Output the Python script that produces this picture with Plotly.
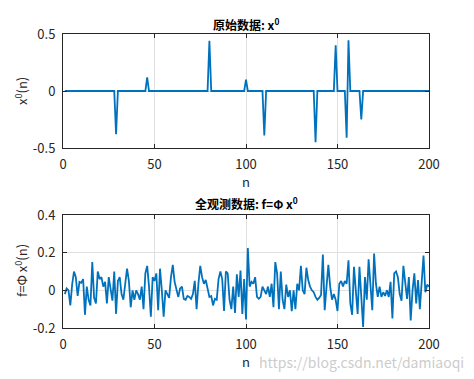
import plotly.graph_objects as go

# ---------------- data ----------------
n = list(range(1, 201))

spike_pos = [29, 46, 80, 100, 110, 138, 149, 155, 156, 163]
spike_val = [-0.38, 0.12, 0.44, 0.10, -0.39, -0.45, 0.40, -0.41, 0.445, -0.25]

x0 = [0.0] * 200
for p, v in zip(spike_pos, spike_val):
    x0[p - 1] = v

f_vals = [
    -0.02, 0.01, 0.0, -0.08, 0.03, 0.1, 0.07, -0.03, 0.045, 0.04,
    0.06, -0.13, 0.02, -0.05, -0.08, 0.15, -0.04, -0.07, 0.1, 0.06,
    0.07, 0.02, 0.045, -0.07, 0.07, 0.0, -0.055, 0.1, -0.125, 0.05,
    0.07, -0.02, -0.05, 0.035, 0.115, 0.05, -0.09, 0.0, -0.05, 0.0,
    -0.02, -0.05, 0.02, -0.1, 0.09, 0.13, 0.02, -0.14, 0.07, 0.05,
    0.09, -0.105, 0.115, 0.0, -0.14, 0.0, -0.02, -0.04, 0.07, 0.135,
    0.045, 0.0, -0.035, 0.01, 0.02, -0.045, -0.05, -0.03, -0.035, -0.045,
    -0.02, 0.05, -0.1, 0.035, 0.13, 0.07, 0.035, 0.055, 0.0, -0.035,
    -0.03, -0.08, -0.045, -0.05, 0.06, 0.1, 0.06, -0.11, 0.1, 0.09,
    -0.05, -0.1, 0.02, -0.12, 0.085, -0.035, 0.105, -0.125, 0.06, -0.155,
    0.225, 0.02, 0.045, 0.035, 0.07, -0.035, -0.045, -0.035, 0.02, 0.0,
    -0.02, 0.02, -0.035, 0.035, -0.09, 0.15, 0.09, -0.1, 0.1, -0.05,
    -0.1, 0.03, -0.035, 0.0, -0.11, 0.0, -0.1, 0.035, 0.0, 0.13,
    0.0, -0.02, 0.12, 0.055, 0.02, 0.0, -0.01, -0.035, -0.05, -0.04,
    -0.025, 0.19, -0.105, 0.02, 0.135, 0.02, -0.05, -0.02, -0.05, -0.11,
    0.035, 0.05, 0.02, 0.05, 0.035, 0.16, -0.07, -0.13, 0.125, 0.0,
    -0.125, 0.125, -0.05, -0.195, 0.07, -0.05, 0.165, 0.0, -0.105, 0.195,
    0.035, -0.035, 0.02, -0.035, -0.01, -0.03, 0.0, -0.035, 0.045, -0.15,
    0.09, 0.1, 0.07, -0.02, -0.055, 0.13, 0.02, -0.045, 0.07, -0.16,
    0.0, 0.09, -0.07, 0.055, -0.1, 0.02, 0.185, -0.01, 0.03, 0.02,
]

x_ticks = [0, 50, 100, 150, 200]
y1_ticks = [-0.5, 0, 0.5]
y1_labels = ["-0.5", "0", "0.5"]
y2_ticks = [-0.2, 0, 0.2, 0.4]
y2_labels = ["-0.2", "0", "0.2", "0.4"]

title1 = "<b>原始数据: x<sup>0</sup></b>"
title2 = "<b>全观测数据: f=Φ x<sup>0</sup></b>"
ylabel1 = "x<sup>0</sup>(n)"
ylabel2 = "f=Φ x<sup>0</sup>(n)"
xlabel = "n"
watermark = "https://blog.csdn.net/damiaoqi"

# ---------------- figure ----------------
OFF = 8  # page body margin
W, H = 474 - OFF, 379 - OFF
FONT = "Noto Sans CJK SC, Noto Sans, sans-serif"
LINE = "#0072BD"
AX = "#262626"
GRID = "#e0e0e0"


def px(x):
    return (x - OFF) / W


def py(y):
    return 1 - (y - OFF) / H


fig = go.Figure()
fig.add_trace(go.Scatter(x=n, y=x0, mode="lines", line=dict(color=LINE, width=1.8),
                         xaxis="x", yaxis="y", showlegend=False))
fig.add_trace(go.Scatter(x=n, y=f_vals, mode="lines", line=dict(color=LINE, width=1.8),
                         xaxis="x2", yaxis="y2", showlegend=False))

xdom = [px(63), px(429)]
y1dom = [py(148), py(34)]
y2dom = [py(328), py(215)]

common_x = dict(range=[0, 200], tickvals=x_ticks, ticks="inside", ticklen=4,
                tickcolor=AX, showline=True, linecolor=AX, linewidth=1,
                mirror="allticks", showgrid=True, gridcolor=GRID, gridwidth=1,
                zeroline=False, tickfont=dict(size=13, color=AX, family=FONT),
                domain=xdom, automargin=False, ticklabelstandoff=4)
common_y = dict(ticks="inside", ticklen=4, tickcolor=AX, showline=True,
                linecolor=AX, linewidth=1, mirror="allticks", showgrid=True,
                gridcolor=GRID, gridwidth=1, zeroline=False,
                tickfont=dict(size=13, color=AX, family=FONT), automargin=False,
                ticklabelstandoff=4)

fig.update_layout(
    width=W, height=H,
    margin=dict(l=0, r=0, t=0, b=0),
    paper_bgcolor="white", plot_bgcolor="white",
    font=dict(family=FONT, color=AX),
    xaxis=dict(**common_x, anchor="y"),
    yaxis=dict(**common_y, range=[-0.5, 0.5], tickvals=y1_ticks, ticktext=y1_labels,
               domain=y1dom, anchor="x"),
    xaxis2=dict(**common_x, anchor="y2"),
    yaxis2=dict(**common_y, range=[-0.2, 0.4], tickvals=y2_ticks, ticktext=y2_labels,
                domain=y2dom, anchor="x2"),
)

ann = []
cx = px((63 + 429) / 2)
ann.append(dict(text=title1, x=cx, y=py(24), xref="paper", yref="paper",
                showarrow=False, font=dict(size=12, color="black", family=FONT),
                xanchor="center", yanchor="middle"))
ann.append(dict(text=title2, x=cx, y=py(203), xref="paper", yref="paper",
                showarrow=False, font=dict(size=12, color="black", family=FONT),
                xanchor="center", yanchor="middle"))
ann.append(dict(text=xlabel, x=cx, y=py(181), xref="paper", yref="paper",
                showarrow=False, font=dict(size=13, color=AX, family=FONT),
                xanchor="center", yanchor="middle"))
ann.append(dict(text=xlabel, x=cx, y=py(361), xref="paper", yref="paper",
                showarrow=False, font=dict(size=13, color=AX, family=FONT),
                xanchor="center", yanchor="middle"))
ann.append(dict(text=ylabel1, x=px(21), y=py(91), xref="paper", yref="paper",
                showarrow=False, textangle=-90, font=dict(size=13, color=AX, family=FONT),
                xanchor="center", yanchor="middle"))
ann.append(dict(text=ylabel2, x=px(21), y=py(271), xref="paper", yref="paper",
                showarrow=False, textangle=-90, font=dict(size=13, color=AX, family=FONT),
                xanchor="center", yanchor="middle"))
ann.append(dict(text=watermark, x=px(466), y=py(362), xref="paper", yref="paper",
                showarrow=False, font=dict(size=14, color="rgba(190,190,190,0.8)", family=FONT),
                xanchor="right", yanchor="middle"))
fig.update_layout(annotations=ann)

fig.write_html("out.html")
